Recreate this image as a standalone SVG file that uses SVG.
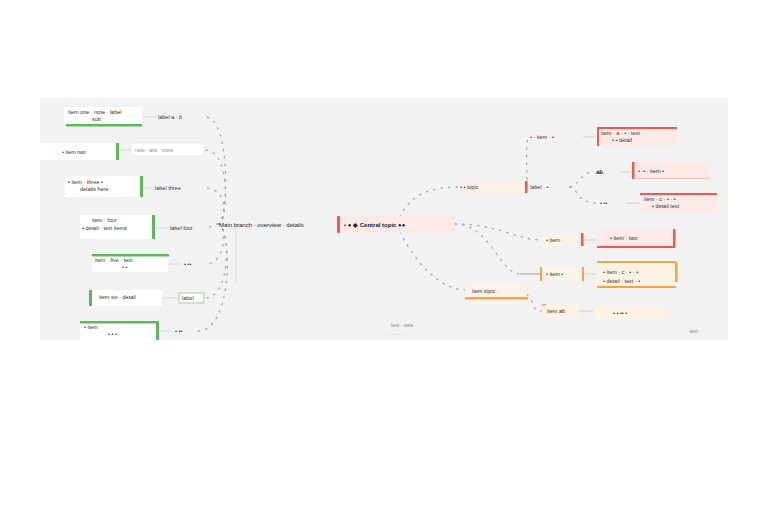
<svg xmlns="http://www.w3.org/2000/svg" width="768" height="523" viewBox="0 0 768 523">
<style>
.t{font-family:"Liberation Sans",Arial,sans-serif;font-size:5.5px;fill:#333333}
.ts{font-family:"Liberation Sans",Arial,sans-serif;font-size:5px;fill:#888888}
.tb{font-family:"Liberation Sans",Arial,sans-serif;font-size:6px;fill:#222;font-weight:bold}
.c{fill:none;stroke:#a8a8a8;stroke-width:1.3;stroke-dasharray:1.5 6;stroke-linecap:round}
.g{fill:#5cb85c}
.r{fill:#ee5a4f}
.o{fill:#f5a442}
.wb{fill:#ffffff}
.pk{fill:#fdeae7}
.pc{fill:#fdf2e6}
</style>
<rect x="0" y="0" width="768" height="523" fill="#ffffff"/>
<rect x="40" y="98" width="688" height="242" fill="#f2f2f2"/>

<g id="connectors">
<path class="c" d="M218,224 C228,224 232,117 205,117"/>
<path class="c" d="M218,224 C228,224 232,150 205,150"/>
<path class="c" d="M218,224 C226,224 230,188 205,188"/>
<path class="c" d="M218,224 C214,224 210,228 205,228"/>
<path class="c" d="M218,224 C226,224 228,264 205,264"/>
<path class="c" d="M218,224 C230,224 232,298 205,298"/>
<path class="c" d="M218,224 C232,224 234,331 198,331"/>
<line x1="236" y1="228" x2="236" y2="284" stroke="#b8b8b8" stroke-width="0.6" stroke-dasharray="1 1"/>
<path class="c" d="M400,217 C410,195 430,187 458,187"/>
<path class="c" d="M400,232 C415,262 440,290 466,290"/>
<path class="c" d="M527,187 C527,160 525,137 530,137"/>
<path class="c" d="M570,187 C578,187 580,172 594,172"/>
<path class="c" d="M570,187 C578,187 575,203 598,203"/>
<path class="c" d="M455,224 C500,224 515,240 543,240"/>
<line x1="520" y1="274" x2="540" y2="274" stroke="#b0b0b0" stroke-width="1.2"/>
<path class="c" d="M455,224 C490,224 500,274 520,274"/>
<path class="c" d="M527,295 C535,300 530,311 542,311"/>
<line x1="583" y1="137" x2="596" y2="137" stroke="#c8c8c8" stroke-width="0.8"/>
<line x1="620" y1="172" x2="632" y2="172" stroke="#c8c8c8" stroke-width="0.8"/>
<line x1="626" y1="203" x2="639" y2="203" stroke="#c8c8c8" stroke-width="0.8"/>
<line x1="584" y1="240" x2="596" y2="240" stroke="#c8c8c8" stroke-width="0.8"/>
<line x1="585" y1="274" x2="596" y2="274" stroke="#c8c8c8" stroke-width="0.8"/>
<line x1="579" y1="311" x2="593" y2="311" stroke="#c8c8c8" stroke-width="0.8"/>
<line x1="143" y1="117" x2="156" y2="117" stroke="#cfcfcf" stroke-width="0.8"/>
<line x1="120" y1="150" x2="131" y2="150" stroke="#cfcfcf" stroke-width="0.8"/>
<line x1="144" y1="188" x2="154" y2="188" stroke="#cfcfcf" stroke-width="0.8"/>
<line x1="155" y1="228" x2="168" y2="228" stroke="#cfcfcf" stroke-width="0.8"/>
<line x1="169" y1="264" x2="181" y2="264" stroke="#cfcfcf" stroke-width="0.8"/>
<line x1="162" y1="298" x2="178" y2="298" stroke="#cfcfcf" stroke-width="0.8"/>
<line x1="160" y1="331" x2="173" y2="331" stroke="#cfcfcf" stroke-width="0.8"/>
</g>

<g id="stem">
<text class="tb" x="219" y="226.5" style="font-weight:normal">Main branch · overview · details</text>
</g>

<g id="center">
<rect class="pk" x="338" y="216" width="117" height="17"/>
<rect class="r" x="337" y="216" width="3" height="17" rx="1"/>
<text class="tb" x="344" y="226.5">• ● ◆ Central topic ●●</text>
</g>

<g id="L1">
<rect class="wb" x="64" y="107" width="78" height="18"/>
<rect class="g" x="66" y="124" width="76" height="2.5"/>
<text class="t" x="68" y="114">Item one · note ·  label</text>
<text class="t" x="92" y="121">sub</text>
<text class="t" x="158" y="119">label a · b</text>
</g>
<g id="L2">
<rect class="wb" x="40" y="143" width="78" height="17"/>
<rect class="g" x="116" y="143" width="3" height="17"/>
<text class="t" x="62" y="154">• item two</text>
<rect class="wb" x="131" y="143" width="73" height="13" stroke="#c8e6c9" stroke-width="0.5"/>
<text class="ts" x="135" y="152">note · text · more</text>
</g>
<g id="L3">
<rect class="wb" x="65" y="176" width="76" height="21"/>
<rect class="g" x="140" y="176" width="3" height="21"/>
<text class="t" x="68" y="184">• item ·  three  •</text>
<text class="t" x="80" y="191">details here</text>
<text class="t" x="155" y="190">label three</text>
</g>
<g id="L4">
<rect class="wb" x="80" y="215" width="73" height="24"/>
<rect class="g" x="152" y="215" width="3" height="24"/>
<text class="t" x="92" y="222">item · four</text>
<text class="t" x="82" y="230">• detail · text items</text>
<text class="t" x="170" y="230">label four</text>
</g>
<g id="L5">
<rect class="wb" x="92" y="255" width="76" height="17"/>
<rect class="g" x="92" y="254" width="77" height="2.5"/>
<text class="t" x="95" y="262">item · five · text</text>
<text class="t" x="122" y="269">• •</text>
<text class="t" x="184" y="266">• ••</text>
</g>
<g id="L6">
<rect class="wb" x="90" y="290" width="72" height="16"/>
<rect class="g" x="89" y="290" width="3" height="16"/>
<text class="t" x="99" y="299">item six · detail</text>
<rect class="wb" x="179" y="293" width="25" height="10" stroke="#5cb85c" stroke-width="0.6"/>
<text class="t" x="182" y="300">label</text>
</g>
<g id="L7">
<rect class="wb" x="80" y="322" width="78" height="18"/>
<rect class="g" x="80" y="321" width="78" height="2.5"/>
<rect class="g" x="156" y="321" width="3" height="19"/>
<text class="t" x="84" y="329">• item</text>
<text class="t" x="108" y="336">• • •</text>
<text class="t" x="175" y="333">• ••</text>
</g>

<g id="R1">
<rect class="pc" x="458" y="181" width="68" height="12"/>
<rect class="r" x="525" y="181" width="2.5" height="12"/>
<text class="t" x="460" y="189">•  •  topic</text>
<text class="t" x="530" y="189">label ·  •</text>
</g>
<g id="R1a">
<text class="t" x="530" y="139">•  ·  item  ·  •</text>
<rect class="pk" x="597" y="128" width="80" height="18"/>
<rect class="r" x="597" y="127" width="80" height="2"/>
<rect class="r" x="597" y="127" width="2" height="19"/>
<text class="t" x="601" y="134.5">item · a · • · text</text>
<text class="t" x="612" y="142">• • detail</text>
</g>
<g id="R1b">
<text class="tb" x="596" y="174">ab</text>
<rect class="pk" x="633" y="162" width="77" height="17"/>
<rect class="r" x="632" y="162" width="2.5" height="17"/>
<rect fill="#f4c2bd" x="634" y="178" width="76" height="1"/>
<text class="t" x="638" y="173">• ·• ·  item   •</text>
</g>
<g id="R1c">
<text class="t" x="600" y="205">•  ••</text>
<rect class="pk" x="640" y="194" width="77" height="18"/>
<rect class="r" x="640" y="193" width="77" height="2"/>
<text class="t" x="644" y="201">item · c · • · •</text>
<text class="t" x="652" y="208">• detail text</text>
</g>
<g id="R2">
<rect class="pc" x="543" y="233" width="39" height="13"/>
<rect class="r" x="581" y="233" width="2.5" height="13"/>
<text class="t" x="546" y="242">• item ·</text>
<rect class="pk" x="597" y="229" width="78" height="18"/>
<rect class="r" x="673" y="229" width="2.5" height="19"/>
<rect class="r" x="597" y="246" width="78" height="2"/>
<text class="t" x="610" y="240">•  item · two</text>
</g>
<g id="R3">
<rect class="pc" x="541" y="268" width="42" height="13"/>
<rect class="o" x="540" y="267" width="2" height="14"/>
<rect class="o" x="582" y="267" width="2" height="14"/>
<text class="t" x="546" y="276">• item  •</text>
<rect class="pc" x="597" y="262" width="79" height="26"/>
<rect class="o" x="597" y="261" width="79" height="2"/>
<rect class="o" x="597" y="286" width="79" height="2"/>
<rect class="o" x="675" y="262" width="2.5" height="20"/>
<text class="t" x="603" y="274">• item · c · • · •</text>
<text class="t" x="603" y="283">• detail · text · •</text>
</g>
<g id="R4">
<rect class="pc" x="465" y="284" width="62" height="14"/>
<rect class="o" x="465" y="297" width="63" height="2.5"/>
<text class="t" x="472" y="293">item    topic  ·</text>
</g>
<g id="R4a">
<rect class="pc" x="542" y="304" width="37" height="14"/>
<rect class="o" x="542" y="304" width="4" height="1.5"/>
<text class="t" x="547" y="313">item  ab</text>
<rect class="pc" x="594" y="305" width="73" height="15"/>
<text class="t" x="613" y="315">• •  •• •</text>
</g>

<g id="footer">
<text class="ts" x="388" y="327">· text · note ·</text>
<text class="ts" x="386" y="336">·  · ·· ···  ·</text>
<text class="ts" x="688" y="333">·text ·</text>
</g>
</svg>
